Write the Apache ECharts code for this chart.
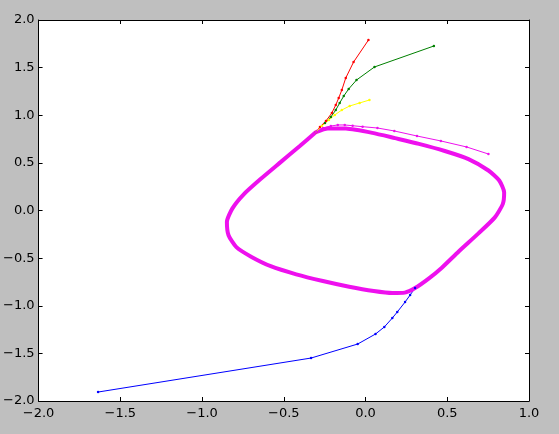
<!DOCTYPE html>
<html>
<head>
<meta charset="utf-8">
<script src="https://cdn.jsdelivr.net/npm/echarts@6/dist/echarts.min.js"></script>
<style>
  html, body { margin: 0; padding: 0; background: #bfbfbf; }
  #chart { width: 559px; height: 434px; }
</style>
</head>
<body>
<div id="chart"></div>
<script>
// tick labels
var xTicks = [-2.0, -1.5, -1.0, -0.5, 0.0, 0.5, 1.0];
var yTicks = [-2.0, -1.5, -1.0, -0.5, 0.0, 0.5, 1.0, 1.5, 2.0];

// trajectories [x, y]
var bluePath = [
  [-1.636, -1.906], [-0.333, -1.549], [-0.048, -1.402], [0.061, -1.297],
  [0.115, -1.223], [0.164, -1.129], [0.194, -1.066], [0.242, -0.961],
  [0.273, -0.887], [0.303, -0.814]
];
var greenPath = [
  [0.418, 1.727], [0.055, 1.507], [-0.055, 1.370], [-0.103, 1.276],
  [-0.133, 1.202], [-0.158, 1.129], [-0.182, 1.055], [-0.212, 0.982],
  [-0.248, 0.919], [-0.303, 0.824]
];
var redPath = [
  [0.018, 1.790], [-0.073, 1.559], [-0.121, 1.391], [-0.145, 1.265],
  [-0.164, 1.181], [-0.182, 1.108], [-0.206, 1.024], [-0.242, 0.940],
  [-0.279, 0.877], [-0.303, 0.824]
];
var yellowPath = [
  [0.024, 1.160], [-0.036, 1.129], [-0.097, 1.097], [-0.145, 1.055],
  [-0.188, 1.003], [-0.224, 0.950], [-0.267, 0.887], [-0.303, 0.824]
];
var magentaPath = [
  [0.752, 0.593], [0.618, 0.667], [0.461, 0.730], [0.315, 0.782],
  [0.176, 0.835], [0.073, 0.866], [-0.018, 0.880], [-0.079, 0.890],
  [-0.127, 0.898], [-0.170, 0.898], [-0.212, 0.887], [-0.261, 0.866],
  [-0.303, 0.824]
];
// limit cycle (many laps overlap into one thick band)
var cyclePath = [
  [-0.303, 0.824], [-0.400, 0.680], [-0.521, 0.505], [-0.642, 0.330],
  [-0.745, 0.170], [-0.815, 0.020], [-0.848, -0.120], [-0.838, -0.260],
  [-0.790, -0.385], [-0.700, -0.485], [-0.580, -0.585], [-0.424, -0.670],
  [-0.261, -0.740], [-0.100, -0.800], [0.050, -0.845], [0.164, -0.866],
  [0.240, -0.862], [0.303, -0.814], [0.388, -0.712], [0.467, -0.600],
  [0.570, -0.430], [0.691, -0.240], [0.790, -0.075], [0.840, 0.070],
  [0.848, 0.190], [0.818, 0.315], [0.752, 0.420], [0.630, 0.540],
  [0.485, 0.625], [0.327, 0.700], [0.180, 0.760], [0.042, 0.815],
  [-0.120, 0.860], [-0.230, 0.862], [-0.303, 0.824]
];

var chart = echarts.init(document.getElementById('chart'));

function fmt(v) {
  return v < 0 ? '\u2212' + Math.abs(v).toFixed(1) : v.toFixed(1);
}

function axisBase(ticks, pos, showLabel) {
  return {
    type: 'value',
    position: pos,
    min: ticks[0],
    max: ticks[ticks.length - 1],
    interval: 0.5,
    axisLine: { show: true, onZero: false, lineStyle: { color: '#000', width: 1 } },
    axisTick: { show: true, inside: true, length: 4, lineStyle: { color: '#000' } },
    splitLine: { show: false },
    axisLabel: {
      show: showLabel,
      color: '#000',
      fontFamily: 'DejaVu Sans',
      fontSize: 13,
      formatter: fmt
    }
  };
}

function trajectory(data, color, width, symbolSize) {
  return {
    type: 'line',
    data: data,
    xAxisIndex: 0,
    yAxisIndex: 0,
    symbol: 'circle',
    symbolSize: symbolSize,
    showSymbol: symbolSize > 0,
    lineStyle: { color: color, width: width },
    itemStyle: { color: color },
    silent: true
  };
}

var xa = axisBase(xTicks, 'bottom', true);
xa.axisLabel.margin = 6;
var ya = axisBase(yTicks, 'left', true);
ya.axisLabel.margin = 4;

var cycle = trajectory(cyclePath, '#ee10ee', 4, 0);
cycle.smooth = 0.2;

chart.setOption({
  animation: false,
  backgroundColor: '#bfbfbf',
  grid: { left: 34, right: 30, top: 20, bottom: 33, show: true, backgroundColor: '#ffffff', borderWidth: 0 },
  xAxis: [xa, axisBase(xTicks, 'top', false)],
  yAxis: [ya, axisBase(yTicks, 'right', false)],
  series: [
    trajectory(bluePath, '#0000ff', 1, 2.5),
    trajectory(greenPath, '#008000', 1, 2.5),
    trajectory(redPath, '#ff0000', 1, 2.5),
    cycle,
    trajectory(yellowPath, '#ffff00', 1, 2.5),
    trajectory(magentaPath, '#ee10ee', 1, 2.5)
  ]
});
</script>
</body>
</html>
